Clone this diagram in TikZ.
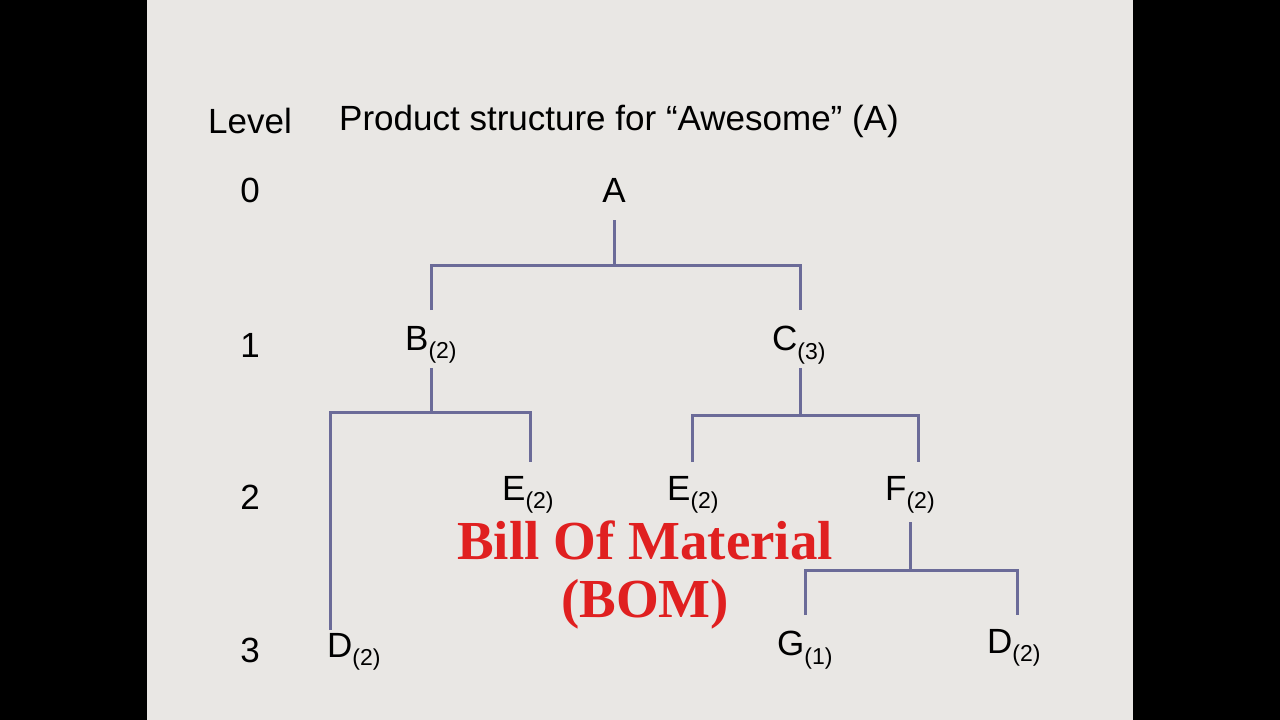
\documentclass[tikz,border=0pt]{standalone}
\usepackage{fontspec}
\setmainfont{Liberation Sans}
\newfontfamily\redfont{Liberation Serif}
\definecolor{page}{HTML}{E9E7E4}
\definecolor{tree}{HTML}{6B6B98}
\definecolor{bomred}{HTML}{E02020}
\tikzset{lbl/.style={font=\fontsize{35}{40}\selectfont, inner sep=0pt},
 ln/.style={draw=tree, line width=3pt}}
\newcommand{\sub}[1]{\raisebox{-0.45ex}{\fontsize{23}{26}\selectfont(#1)}}
\begin{document}
\begin{tikzpicture}[x=1pt,y=-1pt]
\useasboundingbox (0,0) rectangle (1280,720);
\fill[black] (0,0) rectangle (1280,720);
\fill[page] (147,0) rectangle (1133,720);
\node[lbl] (lv) at (250,121) {Level};
\node[lbl] (ps) at (619,121) {Product structure for “Awesome” (A)};
\node[lbl] (l0) at (250,190) {0};
\node[lbl] (l1) at (250,345) {1};
\node[lbl] (l2) at (250,497) {2};
\node[lbl] (l3) at (250,650) {3};
\node[lbl] (A) at (614,190) {A};
\node[lbl,anchor=west] (B) at (405,345) {B\sub{2}};
\node[lbl,anchor=west] (C) at (772,345) {C\sub{3}};
\node[lbl,anchor=west] (E1) at (502,495) {E\sub{2}};
\node[lbl,anchor=west] (E2) at (667,495) {E\sub{2}};
\node[lbl,anchor=west] (F) at (885,495) {F\sub{2}};
\node[lbl,anchor=west] (D1) at (327,652) {D\sub{2}};
\node[lbl,anchor=west] (G) at (777,650) {G\sub{1}};
\node[lbl,anchor=west] (D2) at (987,648) {D\sub{2}};
\coordinate (a1) at (614,220);
\coordinate (a2) at (614,265);
\draw[ln] (a1) -- (a2);
\draw[ln] (431,310) -- (431,265) -- (800,265) -- (800,310);
\draw[ln] (431,368) -- (431,412);
\draw[ln] (330,630) -- (330,412) -- (530,412) -- (530,462);
\draw[ln] (800,368) -- (800,415);
\draw[ln] (692,462) -- (692,415) -- (918,415) -- (918,462);
\draw[ln] (910,522) -- (910,570);
\draw[ln] (805,615) -- (805,570) -- (1017,570) -- (1017,615);
\node[font=\redfont\bfseries\fontsize{55}{58}\selectfont, text=bomred, align=center, inner sep=0pt] (bom) at (645,575) {Bill Of Material\\(BOM)};
\end{tikzpicture}
\end{document}
